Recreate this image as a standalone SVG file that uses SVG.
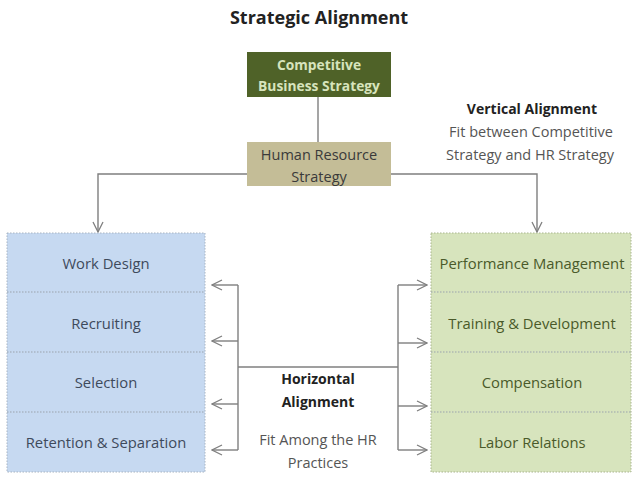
<svg xmlns="http://www.w3.org/2000/svg" width="638" height="478" viewBox="0 0 638 478">
<defs>
<marker id="arr" viewBox="0 0 12 12" refX="11" refY="6" markerWidth="12" markerHeight="12" markerUnits="userSpaceOnUse" orient="auto">
<path d="M1,1 L11,6 L1,11" fill="none" stroke="#7f7f7f" stroke-width="1.3"/>
</marker>
<style>
text{font-family:"Open Sans","Liberation Sans",sans-serif;text-anchor:middle}
.title{font-size:18px;font-weight:bold;fill:#222}
.conn{fill:none;stroke:#7f7f7f;stroke-width:1.4}
.div{stroke:#9aa3ad;stroke-width:1;stroke-dasharray:1.5 1.5}
.blue{fill:#c6d9f1;stroke:#a8b4c2;stroke-width:1;stroke-dasharray:1.5 1.5}
.green{fill:#d7e4bd;stroke:#a9b58e;stroke-width:1;stroke-dasharray:1.5 1.5}
.bt{font-size:14.8px;fill:#3e4a5c}
.gt{font-size:14.8px;fill:#4a5a2a}
.lbl{font-size:14.5px;fill:#555}
.lblb{font-size:14px;font-weight:bold;fill:#222}
</style>
</defs>
<text class="title" x="319" y="24">Strategic Alignment</text>

<g id="connectors">
<line class="conn" x1="318" y1="97" x2="318" y2="142"/>
<polyline class="conn" points="247,174 98,174 98,232" marker-end="url(#arr)"/>
<polyline class="conn" points="391,174 537,174 537,232" marker-end="url(#arr)"/>
<line class="conn" x1="238" y1="367" x2="398" y2="367"/>
<line class="conn" x1="238" y1="285" x2="238" y2="450"/>
<line class="conn" x1="238" y1="285" x2="212" y2="285" marker-end="url(#arr)"/>
<line class="conn" x1="238" y1="341" x2="212" y2="341" marker-end="url(#arr)"/>
<line class="conn" x1="238" y1="404" x2="212" y2="404" marker-end="url(#arr)"/>
<line class="conn" x1="238" y1="450" x2="212" y2="450" marker-end="url(#arr)"/>
<line class="conn" x1="398" y1="285" x2="398" y2="450"/>
<line class="conn" x1="398" y1="285" x2="427" y2="285" marker-end="url(#arr)"/>
<line class="conn" x1="398" y1="343" x2="427" y2="343" marker-end="url(#arr)"/>
<line class="conn" x1="398" y1="406" x2="427" y2="406" marker-end="url(#arr)"/>
<line class="conn" x1="398" y1="450" x2="427" y2="450" marker-end="url(#arr)"/>
</g>

<g id="competitive">
<rect x="247" y="52" width="144" height="45" fill="#4f6228"/>
<text x="319" y="70" style="font-size:13.8px;font-weight:bold;fill:#d7e4bd">Competitive</text>
<text x="319" y="91" style="font-size:13.8px;font-weight:bold;fill:#d7e4bd">Business Strategy</text>
</g>

<g id="hr">
<rect x="247" y="142" width="144" height="44" fill="#c4bd97"/>
<text x="319" y="160" style="font-size:14.5px;fill:#3a3a3a">Human Resource</text>
<text x="319" y="182" style="font-size:14.5px;fill:#3a3a3a">Strategy</text>
</g>

<g id="vertical-label">
<text class="lblb" x="532" y="114">Vertical Alignment</text>
<text class="lbl" x="531" y="137">Fit between Competitive</text>
<text class="lbl" x="530" y="160">Strategy and HR Strategy</text>
</g>

<g id="left-box">
<rect class="blue" x="7" y="233" width="198" height="239"/>
<line class="div" x1="7" y1="292" x2="205" y2="292"/>
<line class="div" x1="7" y1="352" x2="205" y2="352"/>
<line class="div" x1="7" y1="412" x2="205" y2="412"/>
<text class="bt" x="106" y="269">Work Design</text>
<text class="bt" x="106" y="329">Recruiting</text>
<text class="bt" x="106" y="388">Selection</text>
<text class="bt" x="106" y="448">Retention &amp; Separation</text>
</g>

<g id="right-box">
<rect class="green" x="431" y="233" width="200" height="239"/>
<line class="div" x1="431" y1="292" x2="631" y2="292"/>
<line class="div" x1="431" y1="352" x2="631" y2="352"/>
<line class="div" x1="431" y1="412" x2="631" y2="412"/>
<text class="gt" x="532" y="269">Performance Management</text>
<text class="gt" x="532" y="329">Training &amp; Development</text>
<text class="gt" x="532" y="388">Compensation</text>
<text class="gt" x="532" y="448">Labor Relations</text>
</g>

<g id="horizontal-label">
<text class="lblb" x="318" y="384">Horizontal</text>
<text class="lblb" x="318" y="407">Alignment</text>
<text class="lbl" x="318" y="445">Fit Among the HR</text>
<text class="lbl" x="318" y="468">Practices</text>
</g>
</svg>
